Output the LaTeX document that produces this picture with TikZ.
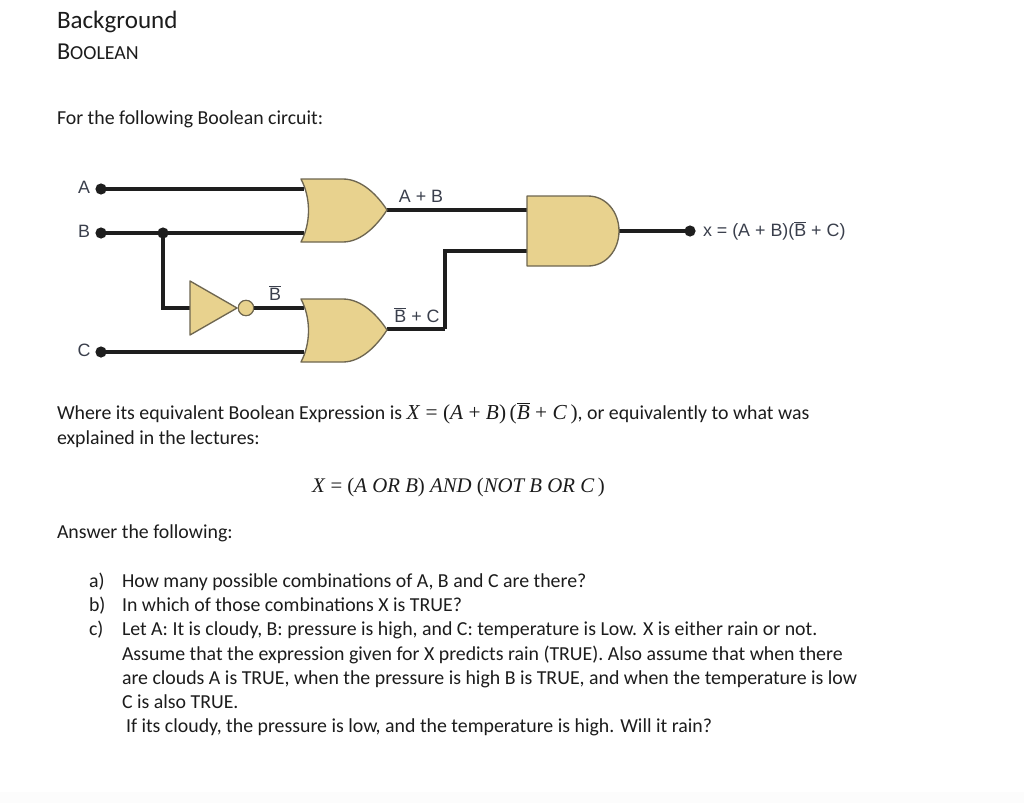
\documentclass[tikz,border=0pt]{standalone}
\usepackage{fontspec}
\setmainfont{Carlito}
\newfontfamily\lblfont{Liberation Sans}
\newfontfamily\mathfont{Liberation Serif}[ItalicFont=* Italic]
\definecolor{gatefill}{HTML}{E8D28E}
\definecolor{gateline}{HTML}{6E6650}
\definecolor{wirecol}{HTML}{1E1E1E}
\definecolor{lblcol}{HTML}{3A3F4C}
\definecolor{txtcol}{HTML}{1C1C1C}
\definecolor{pagebase}{HTML}{FCFCFC}
\newcommand{\barred}[1]{$\overline{\mbox{#1}}$}
\tikzset{
 txt/.style={anchor=base west,inner sep=0pt,outer sep=0pt,text=txtcol,font=\fontsize{14.88}{17}\selectfont},
 lbl/.style={anchor=base,inner sep=0pt,outer sep=0pt,text=lblcol,font=\lblfont\fontsize{13.4}{15}\selectfont},
 wire/.style={draw=wirecol,line width=2.3pt,line join=miter},
 gate/.style={draw=gateline,line width=1pt,fill=gatefill,line join=round},
 pin/.style={circle,fill=wirecol,inner sep=0pt,minimum size=8.4pt,draw=none},
 bubble/.style={circle,fill=gatefill,draw=gateline,line width=0.8pt,inner sep=0pt,minimum size=11.5pt}
}
\begin{document}
\begin{tikzpicture}[x=0.75pt,y=-0.75pt]
\useasboundingbox (0,0) rectangle (1024,803);
\fill[white] (0,0) rectangle (1024,803);
\fill[pagebase] (0,792) rectangle (1024,803);
% text
\node[txt,font=\fontsize{18.8}{22}\selectfont] (t1) at (57,28) {Background};
\node[txt,font=\fontsize{18.2}{20}\selectfont] (t2) at (57,59) {B\fontsize{14.9}{17}\selectfont OOLEAN};
\node[txt] (t3) at (57,124) {For the following Boolean circuit:};
\node[txt] (t4) at (57,419) {Where its equivalent Boolean Expression is {\mathfont\fontsize{16}{17}\selectfont\textit{X} = (\textit{A} + \textit{B})\,($\overline{\mbox{\textit{B}}}$ + \textit{C}\,)}, or equivalently to what was};
\node[txt] (t5) at (57,444) {explained in the lectures:};
\node[txt,font=\mathfont\fontsize{15.6}{17}\selectfont] (t6) at (312,492) {\textit{X} = (\textit{A OR B}) \textit{AND} (\textit{NOT B OR C}\,)};
\node[txt] (t7) at (57,538) {Answer the following:};
\node[txt] (a1) at (89,587) {a)};
\node[txt] (a2) at (122,587) {How many possible combinations of A, B and C are there?};
\node[txt] (b1) at (89,611) {b)};
\node[txt] (b2) at (122,611) {In which of those combinations X is TRUE?};
\node[txt] (c1) at (89,635) {c)};
\node[txt] (c2) at (122,635) {Let A: It is cloudy, B: pressure is high, and C: temperature is Low. X is either rain or not.};
\node[txt] (c3) at (122,660) {Assume that the expression given for X predicts rain (TRUE). Also assume that when there};
\node[txt] (c4) at (122,684) {are clouds A is TRUE, when the pressure is high B is TRUE, and when the temperature is low};
\node[txt] (c5) at (122,708) {C is also TRUE.};
\node[txt] (c6) at (126,732) {If its cloudy, the pressure is low, and the temperature is high. Will it rain?};
% anchors
\coordinate (or1a) at (304,189);
\coordinate (or1b) at (304,233);
\coordinate (or1o) at (387,210);
\coordinate (or2a) at (304,308);
\coordinate (or2b) at (304,352);
\coordinate (or2o) at (387,329);
\coordinate (anda) at (527,210);
\coordinate (andb) at (527,251);
\coordinate (ando) at (619,231);
\coordinate (invi) at (190,308);
\coordinate (corner1) at (163,308);
\coordinate (corner2) at (445,329);
\coordinate (corner3) at (445,251);
% pins
\node[pin] (pa) at (101,189) {};
\node[pin] (pb) at (101,233) {};
\node[pin] (pc) at (101,352) {};
\node[pin] (pj) at (163,233) {};
\node[pin] (px) at (690,231) {};
\node[bubble] (bb) at (246,308) {};
% wires
\draw[wire] (pa.center) -- (or1a);
\draw[wire] (pb.center) -- (or1b);
\draw[wire] (pj.center) -- (corner1) -- (invi);
\draw[wire] (bb) -- (or2a);
\draw[wire] (pc.center) -- (or2b);
\draw[wire] (or1o) -- (anda);
\draw[wire,line width=3.2pt] (or2o) -- (corner2);
\draw[wire] (corner2) -- (corner3) -- (andb);
\draw[wire] (ando) -- (px.center);
% gates
\foreach \n/\yy in {g1/179,g2/299}{
 \draw[gate] (301,\yy) -- (343,\yy) .. controls (362,\yy) and (378,{\yy+17}) .. (387,{\yy+31})
  .. controls (378,{\yy+45}) and (362,{\yy+63}) .. (343,{\yy+63}) -- (301,{\yy+63})
  .. controls (311,{\yy+44}) and (311,{\yy+19}) .. (301,\yy) -- cycle;
}
\draw[gate] (527,196) -- (588,196) .. controls (606,196) and (619,212) .. (619,231)
  .. controls (619,250) and (606,266) .. (588,266) -- (527,266) -- cycle;
\draw[gate] (190,281) -- (237,308) -- (190,335) -- cycle;
\node[bubble] at (bb) {};
% labels
\node[lbl] (la) at (84,193) {A};
\node[lbl] (lb) at (84,237) {B};
\node[lbl] (lc) at (84,356) {C};
\node[lbl] (lab) at (421,202) {A + B};
\node[lbl] (lnb) at (275,300) {\barred{B}};
\node[lbl] (lnbc) at (417,322) {\barred{B} + C};
\node[lbl,anchor=base west] (lx) at (703,236) {x = (A + B)(\barred{B} + C)};
\end{tikzpicture}
\end{document}
